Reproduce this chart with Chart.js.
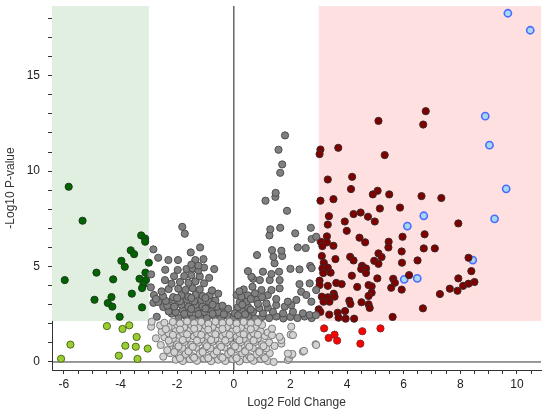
<!DOCTYPE html>
<html>
<head>
<meta charset="utf-8">
<title>Volcano plot</title>
<script src="https://cdn.jsdelivr.net/npm/chart.js@4.4.1/dist/chart.umd.min.js"></script>
<style>
  html, body { margin: 0; padding: 0; background: #fff; }
  #wrap { width: 550px; height: 414px; }
</style>
</head>
<body>
<div id="wrap"><canvas id="volcanoChart"></canvas></div>
<script>
// cut-offs used for the shaded areas
const fcCut = 3;
const pCut = 2.15;

const xRange = [-6.42, 10.85];
const yRange = [-0.42, 18.65];

const xTickValues = [-6, -5.5, -5, -4.5, -4, -3.5, -3, -2.5, -2, -1.5, -1, -0.5, 0, 0.5, 1, 1.5, 2, 2.5, 3, 3.5, 4, 4.5, 5, 5.5, 6, 6.5, 7, 7.5, 8, 8.5, 9, 9.5, 10, 10.5];
const xTickLabels = [-6, -4, -2, 0, 2, 4, 6, 8, 10];
const yTickValues = [0, 1, 2, 3, 4, 5, 6, 7, 8, 9, 10, 11, 12, 13, 14, 15, 16, 17, 18];
const yTickLabels = [0, 5, 10, 15];

// down-regulated, significant
const downSig = [
    [-5.83, 9.18], [-5.34, 7.40], [-5.97, 4.29], [-4.85, 4.68], [-4.92, 3.26],
    [-3.27, 6.63], [-3.13, 6.47], [-3.13, 6.30], [-3.64, 5.85], [-3.52, 5.65],
    [-3.97, 5.30], [-3.85, 4.99], [-3.00, 5.20], [-3.12, 4.68], [-3.33, 4.36],
    [-3.10, 4.29], [-3.19, 4.07], [-3.24, 3.87], [-4.26, 4.33], [-3.60, 3.58],
    [-4.32, 3.40], [-4.45, 3.09], [-4.29, 2.90], [-3.24, 2.86], [-4.03, 2.37]
];
// down-regulated, weak p
const downWeak = [
    [-4.48, 1.88], [-3.93, 1.73], [-3.69, 1.92], [-3.43, 1.31], [-3.83, 0.85],
    [-3.46, 0.80], [-3.04, 0.70], [-4.06, 0.33], [-3.40, 0.16], [-5.77, 0.91],
    [-6.10, 0.17]
];
// up-regulated, significant
const upSig = [
    [5.11, 12.63], [6.78, 13.14], [6.69, 12.44], [3.06, 11.13], [3.03, 10.89], [3.69, 11.22],
    [5.33, 10.84], [3.32, 9.56], [4.18, 9.70], [4.14, 9.06], [5.08, 8.97], [4.91, 8.78],
    [5.49, 8.78], [6.63, 8.69], [7.33, 8.59], [3.06, 8.45], [3.52, 8.53], [5.16, 8.04],
    [5.87, 8.09], [3.36, 7.64], [3.32, 7.20], [3.92, 7.36], [4.23, 7.75], [4.48, 7.83],
    [4.74, 7.61], [4.98, 7.36], [7.93, 7.26], [3.99, 6.87], [6.74, 6.69], [3.29, 6.58],
    [3.07, 6.30], [3.13, 6.07], [3.29, 6.27], [3.52, 6.09], [4.44, 6.51], [4.64, 6.27],
    [5.47, 6.30], [5.46, 6.00], [5.96, 6.56], [6.71, 5.95], [7.10, 5.95], [5.93, 5.79],
    [3.11, 5.55], [3.18, 5.20], [3.59, 5.39], [4.11, 5.51], [4.23, 5.32], [5.11, 5.69],
    [5.22, 5.50], [4.96, 5.30], [5.11, 5.14], [5.94, 5.20], [6.49, 5.32], [8.29, 5.46],
    [3.13, 4.90], [3.32, 4.94], [3.42, 4.68], [3.16, 4.66], [4.53, 5.04], [4.50, 4.87],
    [4.67, 4.90], [4.67, 4.66], [4.17, 4.52], [5.07, 4.38], [5.63, 4.36], [5.69, 4.15],
    [6.19, 4.55], [8.39, 4.76], [7.93, 4.38], [5.56, 3.89], [5.93, 3.79], [3.03, 4.26],
    [3.03, 4.03], [3.32, 3.99], [3.62, 4.14], [3.81, 4.08], [4.36, 3.93], [4.76, 4.03],
    [4.87, 3.96], [4.87, 3.63], [4.76, 3.46], [8.10, 3.99], [8.29, 4.10], [8.50, 4.19],
    [7.90, 3.73], [7.63, 3.84], [7.28, 3.56], [3.11, 3.42], [3.17, 3.16], [3.32, 3.39],
    [3.38, 3.16], [3.53, 3.58], [3.56, 3.42], [4.08, 3.21], [4.12, 3.04], [4.51, 3.13],
    [4.76, 3.02], [3.00, 2.76], [3.06, 2.62], [3.37, 2.48], [3.67, 2.58], [3.70, 2.32],
    [3.93, 2.67], [3.95, 2.27], [4.25, 2.27], [4.80, 2.83], [5.61, 2.36], [6.68, 2.81]
];
// up-regulated, weak p
const upWeak = [
    [3.19, 1.76], [3.56, 1.43], [3.35, 1.26], [3.65, 1.12], [4.54, 1.61], [5.18, 1.76], [4.47, 0.96]
];
// highlighted genes
const highlighted = [
    [9.68, 18.27], [10.47, 17.38], [8.88, 12.88], [9.03, 11.36], [9.62, 9.07], [6.71, 7.66],
    [9.21, 7.50], [6.13, 7.12], [8.44, 5.34], [6.02, 4.33], [6.48, 4.38]
];
// not regulated (|log2FC| < 3)
const notSig = [
    // p below cut-off
    [-2.05, 0.12], [-1.8, 0.05], [-1.55, 0.15], [-1.3, 0.06], [-1.05, 0.18], [-0.8, 0.04], [-0.55, 0.12],
    [-0.3, 0.05], [-0.05, 0.15], [0.2, 0.03], [0.45, 0.14], [0.7, 0.06], [0.95, 0.17], [1.2, 0.05],
    [1.41, 0.0], [1.91, 0.10], [1.95, 0.19],
    [-2.49, 0.28], [-2.25, 0.46], [-1.95, 0.35], [-1.7, 0.42], [-1.45, 0.3], [-1.2, 0.44], [-0.95, 0.32],
    [-0.7, 0.4], [-0.45, 0.28], [-0.2, 0.42], [0.05, 0.33], [0.3, 0.45], [0.55, 0.3], [0.8, 0.4],
    [1.05, 0.29], [1.27, 0.46], [2.03, 0.37], [2.07, 0.42], [1.91, 0.44],
    [-2.58, 0.89], [-2.19, 0.72], [-2.35, 0.62], [-2.05, 0.66], [-1.82, 0.74], [-1.58, 0.63], [-1.33, 0.75],
    [-1.08, 0.6], [-0.83, 0.72], [-0.58, 0.64], [-0.33, 0.76], [-0.08, 0.6], [0.17, 0.73], [0.42, 0.62],
    [0.67, 0.74], [0.92, 0.61], [1.15, 0.72], [2.44, 0.54], [2.48, 0.58],
    [-2.25, 0.99], [-2.0, 0.92], [-1.75, 1.05], [-1.5, 0.9], [-1.25, 1.02], [-1.0, 0.93], [-0.75, 1.06],
    [-0.5, 0.91], [-0.25, 1.03], [0.0, 0.9], [0.25, 1.04], [0.5, 0.92], [0.75, 1.05], [1.0, 0.93],
    [1.25, 1.02], [1.44, 0.84], [1.68, 0.96], [2.89, 0.93], [2.91, 0.89],
    [-2.75, 1.24], [-2.45, 1.3], [-2.15, 1.22], [-1.9, 1.36], [-1.65, 1.25], [-1.4, 1.34], [-1.15, 1.2],
    [-0.9, 1.33], [-0.65, 1.22], [-0.4, 1.36], [-0.15, 1.24], [0.1, 1.35], [0.35, 1.21], [0.6, 1.33],
    [0.85, 1.23], [1.1, 1.36], [1.68, 1.15], [1.62, 1.32], [2.01, 1.43], [2.09, 1.41],
    [-2.55, 1.58], [-2.3, 1.5], [-2.05, 1.62], [-1.8, 1.52], [-1.55, 1.65], [-1.3, 1.5], [-1.05, 1.63],
    [-0.8, 1.53], [-0.55, 1.66], [-0.3, 1.5], [-0.05, 1.6], [0.2, 1.52], [0.45, 1.64], [0.7, 1.5],
    [0.95, 1.62], [1.2, 1.55],
    [-2.92, 1.85], [-2.6, 1.92], [-2.3, 1.82], [-2.0, 1.95], [-1.75, 1.83], [-1.5, 1.94], [-1.25, 1.8],
    [-1.0, 1.92], [-0.75, 1.84], [-0.5, 1.96], [-0.25, 1.82], [0.0, 1.93], [0.25, 1.8], [0.5, 1.9],
    [0.75, 1.82], [1.0, 1.94], [2.03, 1.85],
    [-2.9, 2.11], [-2.45, 2.05], [-2.15, 2.1], [-1.9, 2.02], [-1.65, 2.12], [-1.4, 2.03], [-1.15, 2.1],
    [-0.9, 2.0], [-0.65, 2.11], [-0.4, 2.04], [-0.15, 2.1], [0.1, 2.02], [0.35, 2.1], [0.6, 2.03], [0.85, 2.08],
    [-1.9, 0.2], [-1.4, 0.22], [-0.9, 0.2], [-0.4, 0.22], [0.1, 0.2], [0.6, 0.22], [1.1, 0.2],
    [-2.1, 0.52], [-1.6, 0.55], [-1.1, 0.52], [-0.6, 0.55], [-0.1, 0.52], [0.4, 0.55], [0.9, 0.52],
    [-1.95, 0.82], [-1.45, 0.8], [-0.95, 0.83], [-0.45, 0.8], [0.05, 0.82], [0.55, 0.8], [1.05, 0.83],
    [-2.3, 1.12], [-1.8, 1.15], [-1.3, 1.12], [-0.8, 1.15], [-0.3, 1.12], [0.2, 1.14], [0.7, 1.12],
    [-2.15, 1.42], [-1.65, 1.45], [-1.15, 1.42], [-0.65, 1.45], [-0.15, 1.42], [0.35, 1.45], [0.85, 1.42], [1.35, 1.4],
    [-2.4, 1.72], [-1.9, 1.7], [-1.4, 1.74], [-0.9, 1.7], [-0.4, 1.73], [0.1, 1.7], [0.6, 1.72], [1.35, 1.75],
    // p above cut-off, left
    [-2.72, 2.37], [-2.19, 2.53], [-1.95, 2.3], [-1.7, 2.42], [-1.45, 2.28], [-1.2, 2.4], [-0.95, 2.3],
    [-0.7, 2.42], [-0.45, 2.3], [-0.2, 2.4],
    [-2.49, 2.88], [-2.3, 2.65], [-2.05, 2.62], [-1.8, 2.7], [-1.55, 2.6], [-1.3, 2.72], [-1.05, 2.62],
    [-0.8, 2.7], [-0.55, 2.6], [-0.3, 2.7], [-0.2, 2.79],
    [-2.35, 2.95], [-2.1, 2.9], [-1.85, 3.0], [-1.6, 2.9], [-1.35, 3.0], [-1.1, 2.9], [-0.85, 2.98],
    [-0.6, 2.9], [-0.4, 2.95],
    [-2.84, 3.10], [-2.67, 3.14], [-2.4, 3.2], [-2.15, 3.25], [-1.9, 3.18], [-1.65, 3.26], [-1.4, 3.18],
    [-1.15, 3.25], [-0.9, 3.2], [-0.65, 3.22],
    [-2.82, 3.51], [-2.75, 3.30], [-2.5, 3.45], [-2.14, 3.40], [-1.85, 3.5], [-1.6, 3.42], [-1.35, 3.52],
    [-1.1, 3.45], [-0.85, 3.5], [-0.55, 3.58],
    [-2.93, 3.91], [-2.3, 3.82], [-1.96, 3.84], [-1.7, 3.78], [-1.45, 3.86], [-1.2, 3.8], [-0.77, 3.75], [-2.55, 3.7],
    [-2.43, 4.29], [-1.90, 4.19], [-1.6, 4.15], [-1.35, 4.22], [-1.05, 4.12], [-2.2, 4.1],
    [-2.92, 4.59], [-2.11, 4.49], [-1.75, 4.5], [-1.5, 4.55], [-1.2, 4.48], [-0.87, 4.41],
    [-2.42, 4.83], [-1.98, 4.82], [-1.67, 4.87], [-1.45, 4.9], [-1.25, 4.8], [-0.69, 4.87], [-1.05, 4.95],
    [-2.31, 5.34], [-1.97, 5.34], [-1.36, 5.34], [-1.07, 5.39], [-1.25, 5.05], [-1.5, 5.1], [-2.67, 5.46],
    [-2.84, 5.90], [-1.52, 5.74], [-1.19, 6.00], [-1.82, 7.08], [-1.73, 6.72],
    [-1.75, 2.52], [-1.25, 2.52], [-0.75, 2.52], [-0.35, 2.5], [-1.5, 2.78], [-1.0, 2.8],
    [-2.0, 3.35], [-1.5, 3.35], [-1.0, 3.35], [-0.75, 3.0],
    // p above cut-off, right
    [0.0, 2.35], [0.25, 2.3], [0.5, 2.38], [0.75, 2.28], [1.0, 2.36], [1.25, 2.3], [1.5, 2.38],
    [1.75, 2.28], [2.0, 2.36], [2.25, 2.3], [2.5, 2.38], [2.75, 2.3],
    [0.04, 2.55], [0.33, 2.63], [0.68, 2.63], [1.03, 2.55], [1.38, 2.63], [1.74, 2.55], [2.09, 2.63],
    [2.44, 2.55], [2.68, 2.46], [2.9, 2.45],
    [0.15, 2.88], [0.50, 2.90], [0.9, 2.82], [1.2, 2.85], [1.50, 2.98], [1.80, 2.90], [2.03, 2.98],
    [0.21, 3.14], [0.45, 3.16], [0.80, 3.25], [1.15, 3.07], [1.5, 3.3], [1.91, 3.16], [2.21, 3.25], [2.74, 3.16],
    [0.10, 3.51], [0.27, 3.42], [0.50, 3.49], [0.75, 3.6], [1.2, 3.5], [2.38, 3.68], [2.56, 3.51],
    [0.35, 3.8], [0.66, 3.94], [0.98, 3.77], [1.33, 3.77], [1.62, 3.86], [2.91, 3.77],
    [0.68, 4.36], [0.92, 4.29], [1.27, 4.29], [1.62, 4.29], [2.32, 4.08], [2.68, 4.12],
    [0.62, 4.47], [0.50, 4.76], [1.03, 4.73], [1.33, 4.61], [1.60, 4.73],
    [1.44, 5.17], [2.00, 4.88], [2.32, 4.85], [2.70, 5.03], [2.75, 4.92],
    [0.82, 5.60], [1.40, 5.51], [1.71, 5.55], [1.35, 5.86], [1.68, 5.83], [2.26, 6.00], [2.54, 5.97],
    [1.26, 6.63], [1.29, 6.95], [1.64, 7.03], [2.17, 6.74], [2.72, 7.03], [2.75, 6.44], [2.91, 6.56],
    [1.88, 7.92], [1.12, 8.45], [1.47, 8.65], [1.48, 8.86], [1.64, 9.91], [1.71, 10.35], [1.58, 11.12], [1.81, 11.87],
    [0.15, 2.45], [0.4, 2.5], [0.6, 2.75], [0.3, 3.0], [0.85, 3.05], [0.6, 3.3], [1.0, 3.4], [0.2, 3.7]
];

function toXY(list) {
    return list.map(p => ({ x: p[0], y: p[1] }));
}

const regionsPlugin = {
    id: 'regions',
    beforeDatasetsDraw(chart) {
        const { ctx, chartArea: a, scales: { x, y } } = chart;
        const yCut = y.getPixelForValue(pCut);
        ctx.save();
        ctx.fillStyle = '#e0efe0';
        ctx.fillRect(a.left, a.top, x.getPixelForValue(-fcCut) - a.left, yCut - a.top);
        ctx.fillStyle = '#ffe0e0';
        const xr = x.getPixelForValue(fcCut);
        ctx.fillRect(xr, a.top, a.right - xr, yCut - a.top);

        // zero lines
        const x0 = x.getPixelForValue(0);
        ctx.strokeStyle = '#666';
        ctx.lineWidth = 1.5;
        ctx.beginPath();
        ctx.moveTo(x0, a.top);
        ctx.lineTo(x0, a.bottom);
        ctx.stroke();
        const y0 = y.getPixelForValue(0);
        ctx.strokeStyle = '#333';
        ctx.lineWidth = 1;
        ctx.beginPath();
        ctx.moveTo(a.left, y0);
        ctx.lineTo(a.right, y0);
        ctx.stroke();
        ctx.restore();
    }
};

function pointSet(data, fill, border, width) {
    return {
        data: toXY(data),
        backgroundColor: fill,
        borderColor: border,
        borderWidth: width || 1,
        pointRadius: 3.6,
        pointHoverRadius: 3.6
    };
}

const tickFont = { family: 'Liberation Sans, Arial, sans-serif', size: 12 };

new Chart(document.getElementById('volcanoChart'), {
    type: 'scatter',
    data: {
        datasets: [
            pointSet(notSig.filter(p => p[1] < pCut), '#d3d3d3', '#7a7a7a'),
            pointSet(notSig.filter(p => p[1] >= pCut), '#808080', '#4d4d4d'),
            pointSet(downWeak, '#9acd32', '#4f6a1a'),
            pointSet(downSig, '#006400', '#1e3a1e'),
            pointSet(upWeak, '#ff0000', '#8a2a2a'),
            pointSet(upSig, '#800000', '#3a2a2a'),
            pointSet(highlighted, '#a6d8f2', '#4a6cff', 1.6)
        ]
    },
    options: {
        responsive: true,
        maintainAspectRatio: false,
        animation: false,
        layout: { padding: { top: 6, right: 9, left: 0, bottom: 0 } },
        plugins: {
            legend: { display: false },
            tooltip: { enabled: false }
        },
        scales: {
            x: {
                type: 'linear',
                min: xRange[0],
                max: xRange[1],
                afterBuildTicks: axis => { axis.ticks = xTickValues.map(v => ({ value: v })); },
                afterFit: axis => { axis.height = 44; axis.paddingLeft = 0; axis.paddingRight = 0; },
                ticks: {
                    autoSkip: false,
                    maxRotation: 0,
                    padding: 3,
                    color: '#222',
                    font: tickFont,
                    callback: v => xTickLabels.includes(v) ? String(v) : ''
                },
                grid: { drawOnChartArea: false, tickLength: 4, color: '#333' },
                border: { color: '#333', width: 1 },
                title: {
                    display: true,
                    text: 'Log2 Fold Change',
                    color: '#333',
                    font: tickFont,
                    padding: { top: 0, bottom: 4 }
                }
            },
            y: {
                type: 'linear',
                min: yRange[0],
                max: yRange[1],
                afterBuildTicks: axis => { axis.ticks = yTickValues.map(v => ({ value: v })); },
                afterFit: axis => { axis.width = 52; axis.paddingTop = 0; axis.paddingBottom = 0; },
                ticks: {
                    autoSkip: false,
                    padding: 8,
                    color: '#222',
                    font: tickFont,
                    callback: v => yTickLabels.includes(v) ? String(v) : ''
                },
                grid: { drawOnChartArea: false, tickLength: 4, color: '#333' },
                border: { color: '#333', width: 1 },
                title: {
                    display: true,
                    text: '-Log10 P-value',
                    color: '#333',
                    font: tickFont,
                    padding: { top: 3, bottom: 0 }
                }
            }
        }
    },
    plugins: [regionsPlugin]
});
</script>
</body>
</html>
